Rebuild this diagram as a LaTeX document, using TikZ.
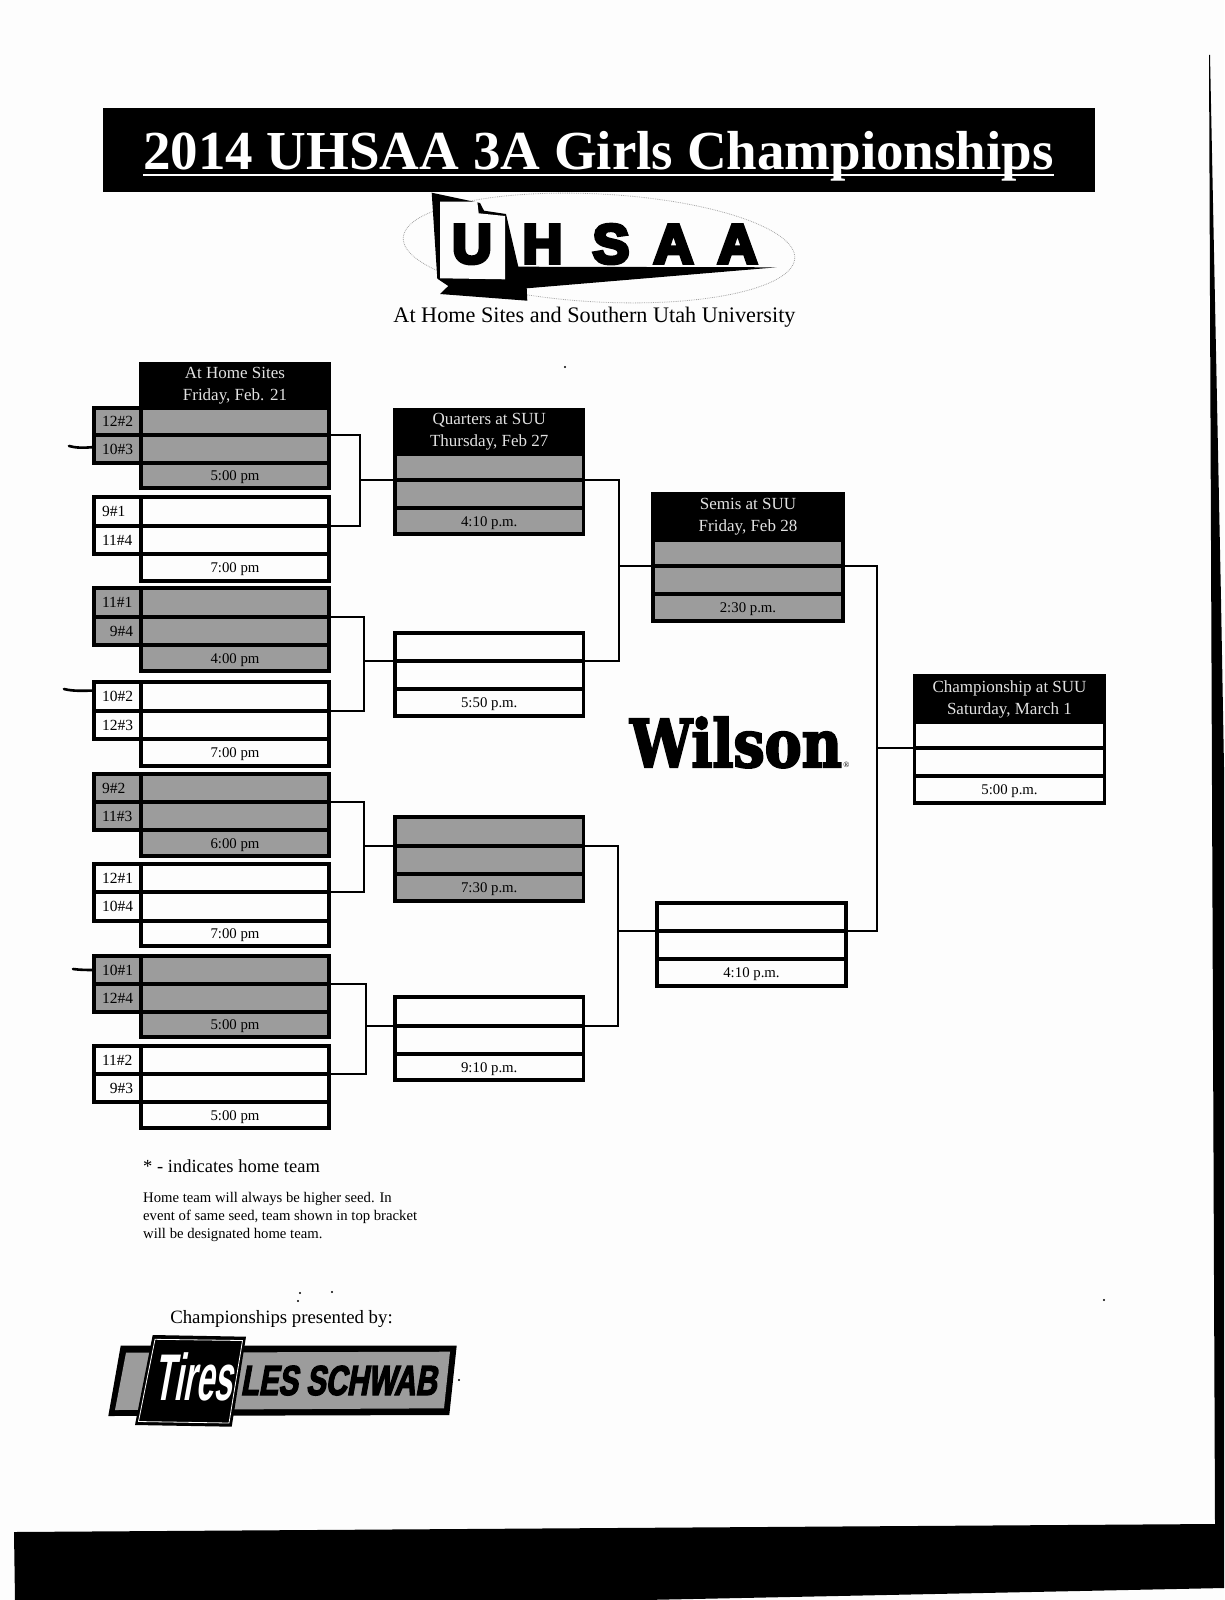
\documentclass[tikz,border=0pt]{standalone}
\usepackage{fontspec}
\setmainfont{Liberation Serif}
\newfontfamily\logofont{Liberation Sans}
\newfontfamily\wilsonfont[FakeStretch=0.84]{DejaVu Serif}
\newfontfamily\tiresfont[FakeSlant=0.18,FakeStretch=0.5]{Liberation Sans}
\newfontfamily\schwabfont[FakeSlant=0.18,FakeStretch=0.7]{Liberation Sans}
\usetikzlibrary{positioning, calc}
\definecolor{paper}{RGB}{253, 253, 253}
\definecolor{scangray}{RGB}{156, 156, 156}
\definecolor{headtext}{RGB}{225, 225, 225}
\tikzset{
  gamerow/.style={draw=black, line width=3.4pt, anchor=north west, inner sep=0pt, outer sep=0pt,
    font=\fontsize{14.8}{16}\selectfont, text height=11pt, text depth=1pt},
  seedcell/.style={draw=black, line width=3.4pt, inner sep=0pt, outer sep=0pt, minimum width=47pt,
    text width=31pt, font=\fontsize{15.5}{16}\selectfont},
  headbox/.style={draw=black, fill=black, line width=3.4pt, inner sep=0pt, outer sep=0pt, minimum height=46pt,
    text=headtext, align=center, font=\fontsize{17}{22}\selectfont},
  link/.style={draw=black, line width=2pt},
  penmark/.style={draw=black, line width=2.6pt, line cap=round},
  logoletter/.style={inner sep=0pt, anchor=base, font=\logofont\bfseries\addfontfeature{FakeBold=7}\fontsize{55}{55}\selectfont},
  plaintext/.style={inner sep=0pt, anchor=base west, align=left},
}

\begin{document}
\begin{tikzpicture}[x=1pt, y=-1pt]
  \useasboundingbox (0,0) rectangle (1224,1600);
  \fill[paper] (0,0) rectangle (1224,1600);

  % scan edge
  \fill[black] (14,1532) -- (1215,1524) -- (1209,55) -- (1210,55) -- (1221,600) -- (1224,768)
    -- (1224,1588) -- (644,1600) -- (15,1600) -- cycle;

  % title
  \node[fill=black, minimum width=992pt, minimum height=83pt, inner sep=0pt] (titlebar) at (599,150) {};
  \node[inner sep=0pt, anchor=base, text=white, font=\bfseries\fontsize{55}{55}\selectfont] (titletext) at (598.5,169)
    {2014 UHSAA 3A Girls Championships};
  \draw[white, line width=2.4pt] ($(titletext.base west)+(0,6)$) -- ($(titletext.base east)+(0,6)$);

  % uhsaa logo
  \draw[gray!70, densely dotted, line width=0.8pt, rotate around={-3:(599,248)}] (599,248) ellipse (196 and 54);
  \fill[black] (431.7,192.7) -- (480,203) -- (484,210.7) -- (506,214) -- (518.3,266.7) -- (776.7,267.3)
    -- (526.7,288.3) -- (527.3,300.7) -- (440,294) -- (448.3,286) -- (437.3,278.7) -- cycle;
  \fill[paper] (440,201.7) -- (477.3,201.7) -- (478.7,213.3) -- (505,216) -- (505,279.3) -- (440,278.3) -- cycle;
  \node[logoletter] (logoU) at (472,263) {U};
  \node[logoletter] (logoH) at (542.5,263) {H};
  \node[logoletter] (logoS) at (611,263) {S};
  \node[logoletter] (logoAa) at (673.5,263) {A};
  \node[logoletter] (logoAb) at (737.5,263) {A};
  \node[inner sep=0pt, anchor=base, font=\fontsize{22.2}{24}\selectfont] (sites) at (594.5,322.7)
    {At Home Sites and Southern Utah University};

  % game rows: name/fill/left/width/y1/y2/y3/y4/time
  \foreach \gname/\gfill/\xa/\gw/\ya/\yb/\yc/\yd/\gtime in {
    g1/scangray/141/188/408/435/463/488/5:00 pm,
    g2/paper/141/188/497/526/554/581/7:00 pm,
    g3/scangray/141/188/588/617/645/671/4:00 pm,
    g4/paper/141/188/682/711/739/766/7:00 pm,
    g5/scangray/141/188/774/802/830/856/6:00 pm,
    g6/paper/141/188/864/892/921/946/7:00 pm,
    g7/scangray/141/188/956/984/1012/1037/5:00 pm,
    g8/paper/141/188/1046/1074/1102/1128/5:00 pm,
    q1/scangray/395/188.5/454/480/508/534/4:10 p.m.,
    q2/paper/395/188.5/633/661/689/716/5:50 p.m.,
    q3/scangray/395/188.5/817/846/874/901/7:30 p.m.,
    q4/paper/395/188.5/997/1026/1054/1080/9:10 p.m.,
    s1/scangray/653/190/540/566/594/621/2:30 p.m.,
    s2/paper/657/189/903/931/959/986/4:10 p.m.,
    c1/paper/914.5/190/722/748/776/803/5:00 p.m.}
  {
    \node[gamerow, fill=\gfill, minimum width=\gw pt, minimum height={(\yb-\ya)*1pt}] (\gname a) at (\xa,\ya) {};
    \node[gamerow, fill=\gfill, minimum width=\gw pt, minimum height={(\yc-\yb)*1pt}] (\gname b) at (\xa,\yb) {};
    \node[gamerow, fill=\gfill, minimum width=\gw pt, minimum height={(\yd-\yc)*1pt}] (\gname c) at (\xa,\yc) {\gtime};
  }

  % seeds
  \foreach \gname/\gfill/\sa/\ala/\sb/\alb in {
    g1/scangray/12\#2/left/10\#3/left,
    g2/paper/9\#1/left/11\#4/left,
    g3/scangray/11\#1/left/9\#4/right,
    g4/paper/10\#2/left/12\#3/left,
    g5/scangray/9\#2/left/11\#3/left,
    g6/paper/12\#1/left/10\#4/left,
    g7/scangray/10\#1/left/12\#4/left,
    g8/paper/11\#2/left/9\#3/right}
  {
    \path let \p1=($(\gname a.north)-(\gname a.south)$) in
      node[seedcell, fill=\gfill, align=\ala, minimum height=\y1, left=0pt of \gname a] (\gname sa) {\sa};
    \path let \p1=($(\gname b.north)-(\gname b.south)$) in
      node[seedcell, fill=\gfill, align=\alb, minimum height=\y1, left=0pt of \gname b] (\gname sb) {\sb};
  }

  % round headers
  \node[headbox, minimum width=188pt, minimum height=44pt, above=0pt of g1a] (homehead) {At Home Sites\\Friday, Feb. 21};
  \node[headbox, minimum width=188.5pt, minimum height=44pt, above=0pt of q1a] (quarthead) {Quarters at SUU\\Thursday, Feb 27};
  \node[headbox, minimum width=190pt, above=0pt of s1a] (semihead) {Semis at SUU\\Friday, Feb 28};
  \node[headbox, minimum width=190pt, above=0pt of c1a] (champhead) {Championship at SUU\\Saturday, March 1};

  % brackets
  \draw[link] (g1a.south east) -- ++(31,0) coordinate (b1) |- (g2a.south east);
  \draw[link] (q1a.south west) -- (q1a.south west -| b1);
  \draw[link] (g3a.south east) -- ++(35,0) coordinate (b2) |- (g4a.south east);
  \draw[link] (q2a.south west) -- (q2a.south west -| b2);
  \draw[link] (g5a.south east) -- ++(35,0) coordinate (b3) |- (g6a.south east);
  \draw[link] (q3a.south west) -- (q3a.south west -| b3);
  \draw[link] (g7a.south east) -- ++(37,0) coordinate (b4) |- (g8a.south east);
  \draw[link] (q4a.south west) -- (q4a.south west -| b4);
  \draw[link] (q1a.south east) -- ++(35,0) coordinate (b5) |- (q2a.south east);
  \draw[link] (s1a.south west) -- (s1a.south west -| b5);
  \draw[link] (q3a.south east) -- ++(34,0) coordinate (b6) |- (q4a.south east);
  \draw[link] (s2a.south west) -- (s2a.south west -| b6);
  \draw[link] (s1a.south east) -- ++(34,0) coordinate (b7) |- (s2a.south east);
  \draw[link] (c1a.south west) -- (c1a.south west -| b7);

  % pen marks
  \coordinate (mark1) at (69,446);
  \coordinate (mark2) at (64,689);
  \coordinate (mark3) at (73,969);
  \draw[penmark] (mark1) .. controls (76,448) and (84,448) .. ($(g1sb.west)+(0,-2)$);
  \draw[penmark] (mark2) .. controls (72,691) and (80,691) .. ($(g4sa.west)+(0,-6)$);
  \draw[penmark] (mark3) .. controls (80,970) and (88,970) .. (g7sa.west);

  % wilson logo
  \node[inner sep=0pt, anchor=base, font=\wilsonfont\bfseries\addfontfeature{FakeBold=3}\fontsize{66}{66}\selectfont] (wilson) at (736,767) {Wilson};
  \node[inner sep=0pt, right=1pt of wilson.base east, anchor=base west, font=\fontsize{8}{8}\selectfont] (wilsonreg) {\textregistered};

  % legend
  \node[plaintext, font=\fontsize{18.5}{20}\selectfont] (legendhead) at (143,1172) {* - indicates home team};
  \node[plaintext, font=\fontsize{14.7}{18}\selectfont] (legendline1) at (143,1202) {Home team will always be higher seed. In};
  \node[plaintext, font=\fontsize{14.7}{18}\selectfont] (legendline2) at (143,1220) {event of same seed, team shown in top bracket};
  \node[plaintext, font=\fontsize{14.7}{18}\selectfont] (legendline3) at (143,1238) {will be designated home team.};
  \node[inner sep=0pt, anchor=base, font=\fontsize{18.8}{20}\selectfont] (presented) at (281.5,1323) {Championships presented by:};

  % tires logo
  \fill[black] (120.7,1345.7) -- (456.7,1345.7) -- (449.3,1415) -- (108.3,1416) -- cycle;
  \fill[scangray] (126,1352.7) -- (450,1351.7) -- (444,1408.3) -- (115,1410) -- cycle;
  \fill[black] (152.7,1335) -- (246,1336.7) -- (231.7,1426.7) -- (135,1425) -- cycle;
  \draw[white, line width=0.8pt] (155,1339.3) -- (242.5,1340.5) -- (229,1423) -- (138.5,1421.5) -- cycle;
  \node[inner sep=0pt, anchor=base, text=white, font=\tiresfont\bfseries\fontsize{66}{66}\selectfont] (tires) at (193,1400) {Tires};
  \node[inner sep=0pt, anchor=base, font=\schwabfont\bfseries\addfontfeature{FakeBold=3}\fontsize{42}{42}\selectfont] (schwab) at (338.5,1395) {LES SCHWAB};

  % specks
  \foreach \px/\py in {565/367, 124/114, 1104/1300, 298/1301, 300/1293, 332/1292, 459/1380}
    \fill[black] (\px,\py) circle (1.2);
\end{tikzpicture}
\end{document}
